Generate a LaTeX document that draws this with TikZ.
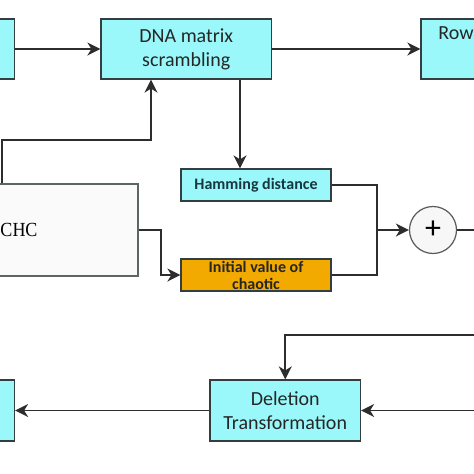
\documentclass[tikz,border=0pt]{standalone}
\usepackage{fontspec}
\setmainfont{Carlito}
\newfontfamily\serifchc{Liberation Serif}
\usetikzlibrary{arrows.meta}
\definecolor{cyanfill}{RGB}{155,248,250}
\definecolor{boxline}{RGB}{50,62,64}
\definecolor{orangefill}{RGB}{242,170,0}
\definecolor{conn}{RGB}{45,45,45}
\definecolor{tealtext}{RGB}{25,55,62}
\tikzset{
  cbox/.style={draw=boxline, line width=1.2pt, fill=cyanfill, inner sep=0pt, align=center, font=\fontsize{20}{24}\selectfont, text=black!85},
  smallbox/.style={draw=boxline, line width=1.2pt, inner sep=0pt, align=center, font=\fontsize{16}{17}\selectfont\bfseries},
  arr/.style={draw=conn, line width=1.8pt, -{Stealth[length=13pt,width=13pt,inset=4pt]}},
  ln/.style={draw=conn, line width=1.8pt},
}
\begin{document}
\begin{tikzpicture}[x=1pt,y=-1pt]
\useasboundingbox (0,0) rectangle (474,474);
\clip (0,0) rectangle (474,474);
\fill[white] (0,0) rectangle (474,474);
% nodes
\node[cbox, minimum width=34.5pt, minimum height=60pt] (tl) at (-2.75,49) {};
\node[cbox, minimum width=170.5pt, minimum height=60pt] (dna) at (186.25,49) {DNA matrix\\scrambling};
\node[cbox, minimum width=70pt, minimum height=60pt] (row) at (456,49) {Row\\\strut};
\node[smallbox, fill=cyanfill, text=tealtext, minimum width=150pt, minimum height=32pt] (hd) at (256,185) {Hamming distance};
\node[smallbox, fill=orangefill, text=black!85, minimum width=150pt, minimum height=32pt] (iv) at (256,275) {Initial value of\\chaotic};
\node[draw=boxline!80, line width=1.2pt, fill=black!2, minimum width=238pt, minimum height=92pt, inner sep=0pt, font=\serifchc\fontsize{20}{24}\selectfont] (chc) at (19,230) {\scalebox{0.9}[1]{CHC}};
\node[circle, draw=black!65, line width=1.2pt, fill=black!3, minimum size=47pt, inner sep=0pt, font=\fontsize{32}{32}\selectfont] (circ) at (433,230) {+};
\node[cbox, minimum width=150.5pt, minimum height=61pt] (del) at (285.25,410.5) {Deletion\\Transformation};
\node[cbox, minimum width=34.5pt, minimum height=61pt] (bl) at (-2.75,410.5) {};
% coordinates
\coordinate (k1) at (2,140);
\coordinate (k2) at (151,140);
\coordinate (hx) at (240,0);
\coordinate (j1) at (161,275);
\coordinate (m) at (377,230);
\coordinate (out1) at (480,230);
\coordinate (r1) at (480,335);
\coordinate (r2) at (480,410.5);
% connectors
\draw[arr] (tl.east) -- (dna.west);
\draw[arr] (dna.east) -- (row.west);
\draw[arr] (chc.north -| k1) -- (k1) -- (k2) -- (dna.south -| k2);
\draw[arr] (dna.south -| hx) -- (hd.north -| hx);
\draw[arr] (chc.east) -| (j1) -- (iv.west);
\draw[ln] (hd.east) -| (m) |- (iv.east);
\draw[arr] (m) -- (circ.west);
\draw[ln] (circ.east) -- (out1);
\draw[arr] (r1) -| (del.north);
\draw[arr] (r2) -- (del.east);
\draw[arr] (del.west) -- (bl.east);
\end{tikzpicture}
\end{document}
